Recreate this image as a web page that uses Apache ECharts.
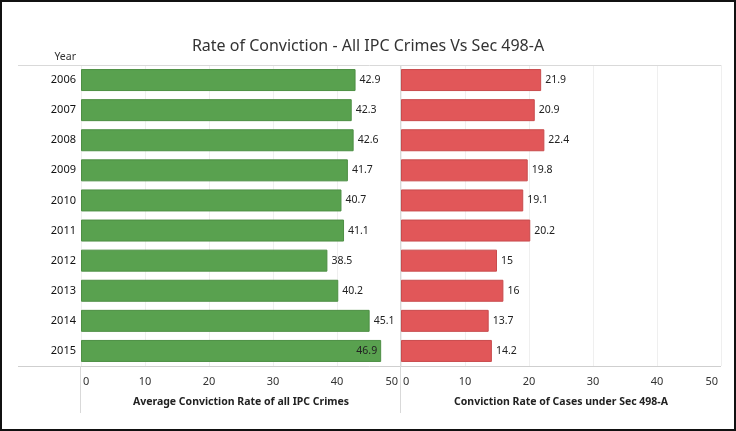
<!DOCTYPE html>
<html>
<head>
<meta charset="utf-8">
<script src="https://cdn.jsdelivr.net/npm/echarts@6/dist/echarts.min.js"></script>
<style>
html,body{margin:0;padding:0;background:#fff;}
#wrap{position:relative;width:736px;height:431px;}
#chart{position:absolute;left:0;top:0;width:736px;height:431px;}
#frame{position:absolute;left:0;top:0;width:736px;height:431px;box-sizing:border-box;border:2px solid #111;pointer-events:none;}
</style>
</head>
<body>
<div id="wrap"><div id="chart"></div><div id="frame"></div></div>
<script>
const years = ['2006','2007','2008','2009','2010','2011','2012','2013','2014','2015'];
const ipcRate = [42.9, 42.3, 42.6, 41.7, 40.7, 41.1, 38.5, 40.2, 45.1, 46.9];
const sec498Rate = [21.9, 20.9, 22.4, 19.8, 19.1, 20.2, 15, 16, 13.7, 14.2];
const xTicks = [0, 10, 20, 30, 40, 50];

const FONT = 'Noto Sans';
const chart = echarts.init(document.getElementById('chart'), null, {renderer:'canvas'});

function labelled(vals, max) {
  return vals.map(v => {
    const inside = v / max > 0.92;
    return {value: v, label: {position: inside ? 'insideRight' : 'right'}};
  });
}

const tickMin = xTicks[0], tickMax = xTicks[xTicks.length-1];
const tickText = {fontFamily: FONT, fontSize: 11, color: '#333'};

const xAxisBase = {
  type: 'value', min: tickMin, max: tickMax, interval: 10,
  axisLine: {show: false}, axisTick: {show: false},
  splitLine: {show: true, lineStyle: {color: '#efefef', width: 1}},
  axisLabel: {
    fontFamily: FONT, fontSize: 11, color: '#333', margin: 10,
    alignMinLabel: 'left', alignMaxLabel: 'right',
    formatter: v => v === tickMin ? '{lo|' + v + '}' : (v === tickMax ? '{hi|' + v + '}' : '{n|' + v + '}'),
    rich: {
      lo: Object.assign({padding: [0, 0, 0, 2]}, tickText),
      hi: Object.assign({padding: [0, 3, 0, 0]}, tickText),
      n: Object.assign({}, tickText)
    }
  },
  nameLocation: 'middle', nameGap: 31,
  nameTextStyle: {fontFamily: FONT, fontSize: 10.5, fontWeight: 'bold', color: '#222'}
};

const option = {
  animation: false,
  title: {
    text: 'Rate of Conviction - All IPC Crimes Vs Sec 498-A',
    left: 'center', top: 33,
    textStyle: {fontFamily: FONT, fontSize: 16, fontWeight: 'normal', color: '#333'}
  },
  grid: [
    {left: 81, width: 320, top: 65, height: 301},
    {left: 401, width: 320, top: 65, height: 301}
  ],
  xAxis: [
    Object.assign({}, xAxisBase, {gridIndex: 0, name: 'Average Conviction Rate of all IPC Crimes'}),
    Object.assign({}, xAxisBase, {gridIndex: 1, name: 'Conviction Rate of Cases under Sec 498-A'})
  ],
  yAxis: [
    {type: 'category', gridIndex: 0, data: years, inverse: true,
     axisLine: {show: false}, axisTick: {show: false},
     axisLabel: {fontFamily: FONT, fontSize: 11, color: '#111', margin: 5},
     name: 'Year', nameLocation: 'start', nameGap: 2,
     nameTextStyle: {fontFamily: FONT, fontSize: 10.5, color: '#333', align: 'right', padding: [0, 5, 0, 0]}},
    {type: 'category', gridIndex: 1, data: years, inverse: true,
     axisLine: {show: false}, axisTick: {show: false}, axisLabel: {show: false}}
  ],
  series: [
    {type: 'bar', xAxisIndex: 0, yAxisIndex: 0, data: labelled(ipcRate, 50), barWidth: 22,
     itemStyle: {color: '#59a14f', borderColor: '#4d8f44', borderWidth: 1},
     label: {show: true, fontFamily: FONT, fontSize: 10.5, color: '#222', distance: 4}},
    {type: 'bar', xAxisIndex: 1, yAxisIndex: 1, data: labelled(sec498Rate, 50), barWidth: 22,
     itemStyle: {color: '#e15759', borderColor: '#c94b4d', borderWidth: 1},
     label: {show: true, fontFamily: FONT, fontSize: 10.5, color: '#222', distance: 4}}
  ],
  graphic: [
    {type: 'line', shape: {x1: 18, y1: 65.5, x2: 721, y2: 65.5}, style: {stroke: '#d9d9d9', lineWidth: 1}, z: 10},
    {type: 'line', shape: {x1: 18, y1: 366.5, x2: 721, y2: 366.5}, style: {stroke: '#cfcfcf', lineWidth: 1}, z: 10},
    {type: 'line', shape: {x1: 80.5, y1: 366, x2: 80.5, y2: 413}, style: {stroke: '#d9d9d9', lineWidth: 1}, z: 10},
    {type: 'line', shape: {x1: 400.5, y1: 65, x2: 400.5, y2: 413}, style: {stroke: '#d9d9d9', lineWidth: 1}, z: 10}
  ]
};
chart.setOption(option);
</script>
</body>
</html>
